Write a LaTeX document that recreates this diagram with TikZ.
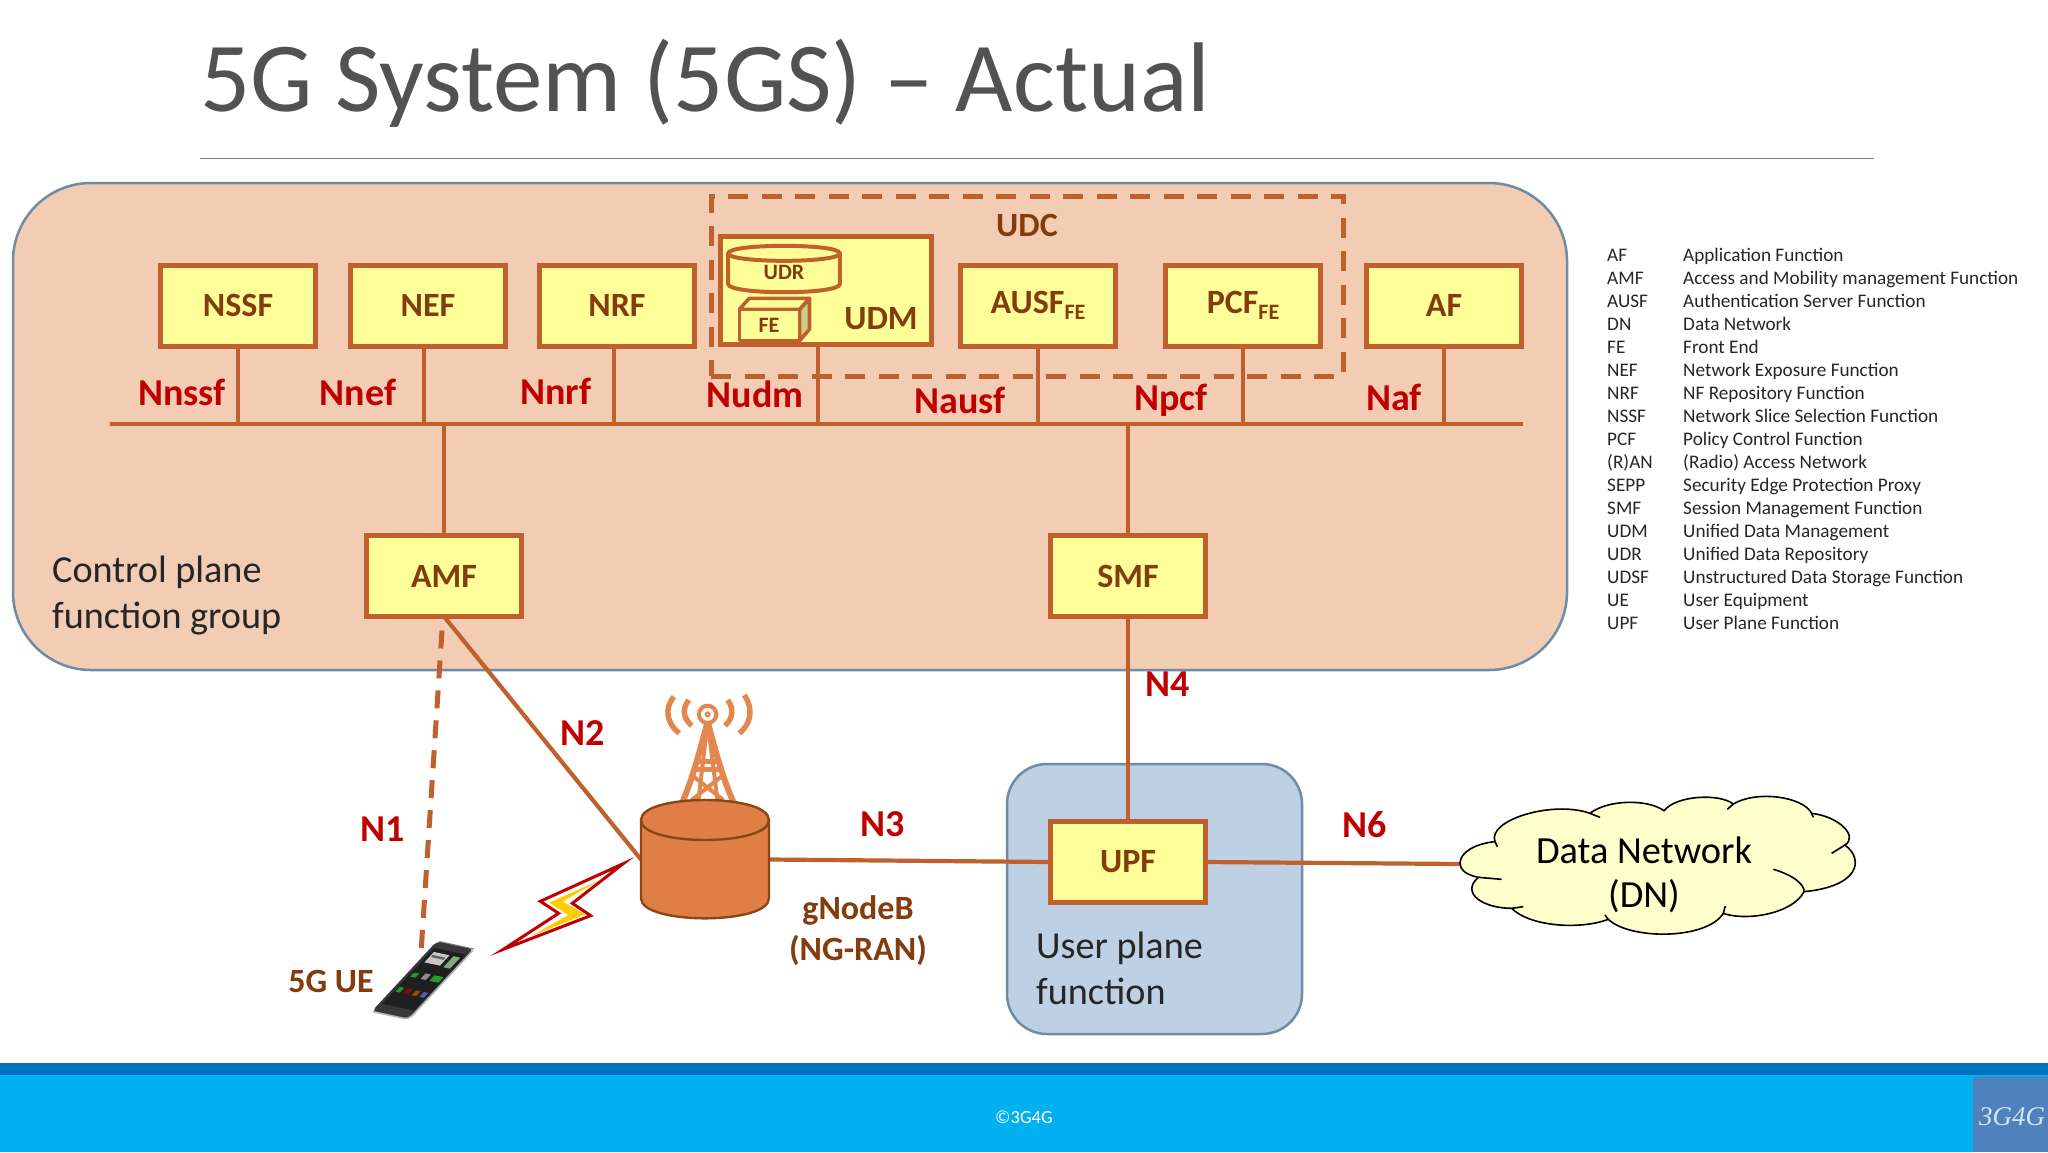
\documentclass[tikz,border=0pt]{standalone}
\usepackage{fontspec}
\setmainfont{Carlito}
\newfontfamily\logofont{Liberation Serif}
\usetikzlibrary{calc}
\definecolor{lineor}{HTML}{C0602C}
\definecolor{boxfill}{HTML}{FFFF99}
\definecolor{brownt}{HTML}{843C0C}
\definecolor{redt}{HTML}{C00000}
\definecolor{groupf}{HTML}{F3CCB4}
\definecolor{edgeb}{HTML}{6F8CA6}
\definecolor{userf}{HTML}{BDD0E4}
\definecolor{towerc}{HTML}{E2884F}
\definecolor{gnbf}{HTML}{E07F45}
\definecolor{gnbd}{HTML}{8A4615}
\definecolor{darkt}{HTML}{262626}
\newcommand{\fs}[1]{\fontsize{#1}{#1}\selectfont}
\newcommand{\febit}{\raisebox{-6pt}{\fs{22}FE}}
\newcommand{\legrow}[3]{%
  \node[legab] (la#1) at (1607,{261+23.06*#1}) {#2};
  \node[legab] (ld#1) at (1683,{261+23.06*#1}) {#3};}
\tikzset{
  wire/.style={draw=lineor,line width=4.2pt},
  nfbox/.style={draw=lineor,fill=boxfill,line width=5pt,minimum width=154.5pt,minimum height=81pt,inner sep=0pt,outer sep=0pt,text=brownt,font=\fs{34}\bfseries},
  iflabel/.style={text=redt,font=\fs{38}\bfseries,inner sep=0pt},
  brlabel/.style={text=brownt,font=\fs{34}\bfseries,inner sep=0pt,align=center},
  plain/.style={text=darkt,font=\fs{38.2},inner sep=0pt,anchor=base west},
  legab/.style={text=darkt,font=\fs{19.2},inner sep=0pt,anchor=base west},
  smalllab/.style={text=brownt,font=\fs{22}\bfseries,inner sep=0pt},
}
\begin{document}
\begin{tikzpicture}[x=1pt,y=-1pt]
\useasboundingbox (0,0) rectangle (2048,1152);
\fill[white] (0,0) rectangle (2048,1152);
% title
\node[anchor=base west,inner sep=0pt,text=black!68,font=\fs{99}] (title) at (200,111) {5G System (5GS) – Actual};
\coordinate (rl) at (200,158); \coordinate (rr) at (1874,158);
\draw[black!50,line width=0.8pt] (rl) -- (rr);
% footer
\fill[color={rgb,255:red,0;green,112;blue,192}] (0,1063) rectangle (2048,1075);
\fill[color={rgb,255:red,0;green,176;blue,240}] (0,1075) rectangle (2048,1152);
\fill[color={rgb,255:red,79;green,129;blue,189}] (1973,1077) rectangle (2048,1152);
\node[text=white,font=\fs{18.5},inner sep=0pt] (copy) at (1024,1117) {©3G4G};
\node[text={rgb,255:red,215;green,228;blue,244},font=\logofont\fs{27}\itshape,inner sep=0pt] (logo) at (2012,1117) {3G4G};
% groups
\node[draw=edgeb,fill=groupf,line width=2.5pt,rounded corners=78pt,minimum width=1554pt,minimum height=487pt,inner sep=0pt,outer sep=0pt] (cpgroup) at (790,426.5) {};
\node[draw=edgeb,fill=userf,line width=2.5pt,rounded corners=40pt,minimum width=295pt,minimum height=270pt,inner sep=0pt,outer sep=0pt] (upgroup) at (1154.5,899) {};
\node[draw=lineor,line width=5pt,dash pattern=on 20pt off 13.5pt,minimum width=632pt,minimum height=180pt,inner sep=0pt,outer sep=0pt] (udc) at (1027,286) {};
% boxes
\node[nfbox] (nssf) at (238,305.5) {NSSF};
\node[nfbox] (nef) at (428,305.5) {NEF};
\node[nfbox] (nrf) at (617,305.5) {NRF};
\node[nfbox,minimum width=211pt,minimum height=108pt] (udm) at (826,290.5) {};
\node[nfbox] (ausf) at (1038,305.5) {AUSF\febit};
\node[nfbox] (pcf) at (1243,305.5) {PCF\febit};
\node[nfbox] (af) at (1444,305.5) {AF};
\node[nfbox] (amf) at (444,576) {AMF};
\node[nfbox] (smf) at (1128,576) {SMF};
\node[nfbox] (upf) at (1128,862) {UPF};
% bus
\coordinate (busl) at (110,424); \coordinate (busr) at (1523,424);
\draw[wire] (busl) -- (busr);
\draw[wire] (nssf.south) -- (nssf.south |- busl);
\draw[wire] ([xshift=-4pt]nef.south) -- ([xshift=-4pt]nef.south |- busl);
\draw[wire] ([xshift=-3pt]nrf.south) -- ([xshift=-3pt]nrf.south |- busl);
\draw[wire] ([xshift=-8pt]udm.south) -- ([xshift=-8pt]udm.south |- busl);
\draw[wire] (ausf.south) -- (ausf.south |- busl);
\draw[wire] (pcf.south) -- (pcf.south |- busl);
\draw[wire] (af.south) -- (af.south |- busl);
\draw[wire] (amf.north) -- (amf.north |- busl);
\draw[wire] (smf.north) -- (smf.north |- busl);
% gNodeB anchor
\node[minimum width=128pt,minimum height=117pt,inner sep=0pt,outer sep=0pt] (gnb) at (705,859.5) {};
% cloud anchor
\coordinate (dnw) at (1462,864);
\coordinate (uetop) at (421,953);
% connectors
\draw[wire] (smf.south) -- (upf.north);
\draw[wire] (amf.south) -- (gnb.west);
\draw[wire] (gnb.east) -- (upf.west);
\draw[wire] (upf.east) -- (dnw);
\draw[wire,line width=5pt,dash pattern=on 18pt off 12pt] ([yshift=-14pt,xshift=-2pt]amf.south) -- (uetop);
% UDR / FE in UDM
\begin{scope}[shift={(680,180)},x=0.4464pt,y=-0.3333pt]
  \draw[draw=lineor,fill=boxfill,line width=4pt] (108,220) -- (108,312) .. controls (108,345) and (358,345) .. (358,312) -- (358,220) .. controls (358,190) and (108,190) .. (108,220) -- cycle;
  \draw[draw=lineor,line width=4pt] (108,220) .. controls (108,250) and (358,250) .. (358,220);
  \draw[draw=lineor,fill={rgb,255:red,198;green,208;blue,138},line width=3.6pt,line join=round] (268,388) -- (290,355) -- (290,448) -- (268,482) -- cycle;
  \draw[draw=lineor,fill=boxfill,line width=3.6pt,line join=round] (133,388) -- (155,355) -- (290,355) -- (268,388) -- cycle;
  \draw[draw=lineor,fill=boxfill,line width=3.6pt,line join=round] (133,388) rectangle (268,482);
\end{scope}
\node[smalllab] (udr) at (784,272) {UDR};
\node[smalllab] (fe) at (769,325) {FE};
\node[brlabel] (udmlab) at (881,319) {UDM};
\node[brlabel] (udclab) at (1027,225) {UDC};
% gNodeB drawing
\begin{scope}[shift={(340,680)},x=0.3333pt,y=-0.3333pt]
  \begin{scope}[draw=towerc,line width=4.6pt]
    \draw[line width=6pt] (1103,125) .. controls (1080,210) and (1060,290) .. (1028,365);
    \draw[line width=6pt] (1103,125) .. controls (1126,210) and (1146,290) .. (1180,365);
    \draw[line width=4pt] (1103,125) -- (1075,365);
    \draw[line width=4pt] (1103,125) -- (1133,365);
    \draw (1062,245) -- (1144,245);
    \draw (1055,268) -- (1152,268);
    \draw[line width=4pt] (1055,285) -- (1150,360);
    \draw[line width=4pt] (1150,285) -- (1055,360);
    \draw[fill=white,line width=4pt] (1103,103) circle (26);
    \draw[line width=2pt] (1103,103) circle (6);
    \draw[line width=5.4pt] (1047,60) .. controls (1025,85) and (1030,115) .. (1055,137);
    \draw[line width=5.4pt] (1002,50) .. controls (972,85) and (980,130) .. (1018,160);
    \draw[line width=5.4pt] (1163,60) .. controls (1182,85) and (1180,115) .. (1155,137);
    \draw[line width=5.4pt] (1213,45) .. controls (1240,85) and (1235,130) .. (1198,160);
  \end{scope}
  \draw[draw=gnbd,fill=gnbf,line width=2.4pt] (903,420) -- (903,655) .. controls (903,735) and (1287,735) .. (1287,655) -- (1287,420) .. controls (1287,340) and (903,340) .. cycle;
  \draw[draw=gnbd,line width=2.4pt] (903,420) .. controls (903,500) and (1287,500) .. (1287,420);
  % lightning
  \draw[draw=redt,fill=white,line width=3pt,miter limit=20] (850,551) -- (601,664) -- (656,700) -- (490,808) -- (752,707) -- (697,670) -- cycle;
  \fill[color={rgb,255:red,255;green,204;blue,0}] (780,600) -- (628,668) -- (685,705) -- (570,770) -- (735,703) -- (668,665) -- cycle;
\end{scope}
% phone
\begin{scope}[shift={(437,941)},x={(37pt,-8pt)},y={(-64pt,-69pt)}]
  \fill[black!78,rounded corners=5pt] (0,0) -- (1,0) -- (1,1.02) -- (0,1.02) -- cycle;
  \draw[black!30,line width=1.6pt,rounded corners=5pt] (1,0.02) -- (1,1.02) -- (0.03,1.02);
  \draw[black!50,line width=1pt,rounded corners=5pt] (0.06,0) -- (1,0);
  \fill[black!88] (0.08,0.09) -- (0.94,0.09) -- (0.94,0.9) -- (0.08,0.9) -- cycle;
  \fill[black!22] (0.16,0.14) -- (0.58,0.14) -- (0.58,0.29) -- (0.16,0.29) -- cycle;
  \fill[black!62] (0.2,0.18) -- (0.54,0.18) -- (0.54,0.21) -- (0.2,0.21) -- cycle;
  \fill[green!35!black!50!white] (0.69,0.14) -- (0.87,0.14) -- (0.87,0.3) -- (0.69,0.3) -- cycle;
  \fill[green!45!black!80] (0.14,0.44) -- (0.28,0.44) -- (0.28,0.5) -- (0.14,0.5) -- cycle;
  \fill[black!45] (0.42,0.42) -- (0.56,0.42) -- (0.56,0.5) -- (0.42,0.5) -- cycle;
  \fill[green!55!black!85] (0.66,0.42) -- (0.9,0.42) -- (0.9,0.5) -- (0.66,0.5) -- cycle;
  \fill[green!50!black!85] (0.12,0.65) -- (0.24,0.65) -- (0.24,0.72) -- (0.12,0.72) -- cycle;
  \fill[red!60!black] (0.34,0.65) -- (0.46,0.65) -- (0.46,0.72) -- (0.34,0.72) -- cycle;
  \fill[orange!60!black] (0.56,0.65) -- (0.68,0.65) -- (0.68,0.72) -- (0.56,0.72) -- cycle;
  \fill[blue!50!white!70!black] (0.77,0.65) -- (0.89,0.65) -- (0.89,0.72) -- (0.77,0.72) -- cycle;
\end{scope}
% cloud
\begin{scope}[shift={(1440,780)},x=0.3333pt,y=-0.3333pt]
  \draw[draw=black,fill={rgb,255:red,255;green,255;blue,204},line width=1.6pt]
   (60,250) .. controls (60,215) and (110,190) .. (165,185)
   .. controls (140,120) and (340,60) .. (450,100)
   .. controls (500,60) and (620,55) .. (672,92)
   .. controls (710,45) and (840,40) .. (880,72)
   .. controls (950,30) and (1090,50) .. (1115,100)
   .. controls (1200,110) and (1255,170) .. (1215,195)
   .. controls (1275,240) and (1255,320) .. (1092,335)
   .. controls (1060,400) and (920,425) .. (850,400)
   .. controls (800,480) and (570,480) .. (505,418)
   .. controls (420,450) and (270,440) .. (215,385)
   .. controls (130,385) and (60,340) .. (115,292)
   .. controls (80,285) and (60,270) .. (60,250) -- cycle;
  \draw[black,line width=1.6pt] (165,185) -- (172,200);
  \draw[black,line width=1.6pt] (115,292) -- (185,298);
  \draw[black,line width=1.6pt] (215,385) -- (250,380);
  \draw[black,line width=1.6pt] (450,100) -- (480,112);
  \draw[black,line width=1.6pt] (880,72) -- (862,88);
  \draw[black,line width=1.6pt] (1115,100) -- (1120,112);
  \draw[black,line width=1.6pt] (1215,195) -- (1175,220);
  \draw[black,line width=1.6pt] (1000,268) .. controls (1060,285) and (1095,315) .. (1092,335);
  \draw[black,line width=1.6pt] (850,400) -- (856,378);
  \draw[black,line width=1.6pt] (505,418) -- (495,405);
\end{scope}
\node[text=black,font=\fs{38.4},inner sep=0pt] (dn1) at (1644,850) {Data Network};
\node[text=black,font=\fs{38.4},inner sep=0pt] (dn2) at (1644,896) {(DN)};
% interface labels
\node[iflabel] (lnssf) at (182,392) {Nnssf};
\node[iflabel] (lnef) at (358,392) {Nnef};
\node[iflabel] (lnrf) at (556,391) {Nnrf};
\node[iflabel] (ludm) at (755,394) {Nudm};
\node[iflabel] (lausf) at (960,400) {Nausf};
\node[iflabel] (lpcf) at (1171,400) {Npcf};
\node[iflabel] (laf) at (1394,397) {Naf};
\node[iflabel] (ln1) at (383,829) {N1};
\node[iflabel] (ln2) at (583,733) {N2};
\node[iflabel] (ln3) at (883,824) {N3};
\node[iflabel] (ln4) at (1168,684) {N4};
\node[iflabel] (ln6) at (1365,825) {N6};
% plain labels
\node[plain] (cp1) at (52,582) {Control plane};
\node[plain] (cp2) at (52,628) {function group};
\node[plain] (up1) at (1036,958) {User plane};
\node[plain] (up2) at (1036,1004) {function};
\node[brlabel] (gn1) at (858,910) {gNodeB};
\node[brlabel] (gn2) at (858,950) {(NG-RAN)};
\node[brlabel] (ue) at (331,981) {5G UE};
% legend
\legrow{0}{AF}{Application Function}
\legrow{1}{AMF}{Access and Mobility management Function}
\legrow{2}{AUSF}{Authentication Server Function}
\legrow{3}{DN}{Data Network}
\legrow{4}{FE}{Front End}
\legrow{5}{NEF}{Network Exposure Function}
\legrow{6}{NRF}{NF Repository Function}
\legrow{7}{NSSF}{Network Slice Selection Function}
\legrow{8}{PCF}{Policy Control Function}
\legrow{9}{(R)AN}{(Radio) Access Network}
\legrow{10}{SEPP}{Security Edge Protection Proxy}
\legrow{11}{SMF}{Session Management Function}
\legrow{12}{UDM}{Unified Data Management}
\legrow{13}{UDR}{Unified Data Repository}
\legrow{14}{UDSF}{Unstructured Data Storage Function}
\legrow{15}{UE}{User Equipment}
\legrow{16}{UPF}{User Plane Function}
\end{tikzpicture}
\end{document}
